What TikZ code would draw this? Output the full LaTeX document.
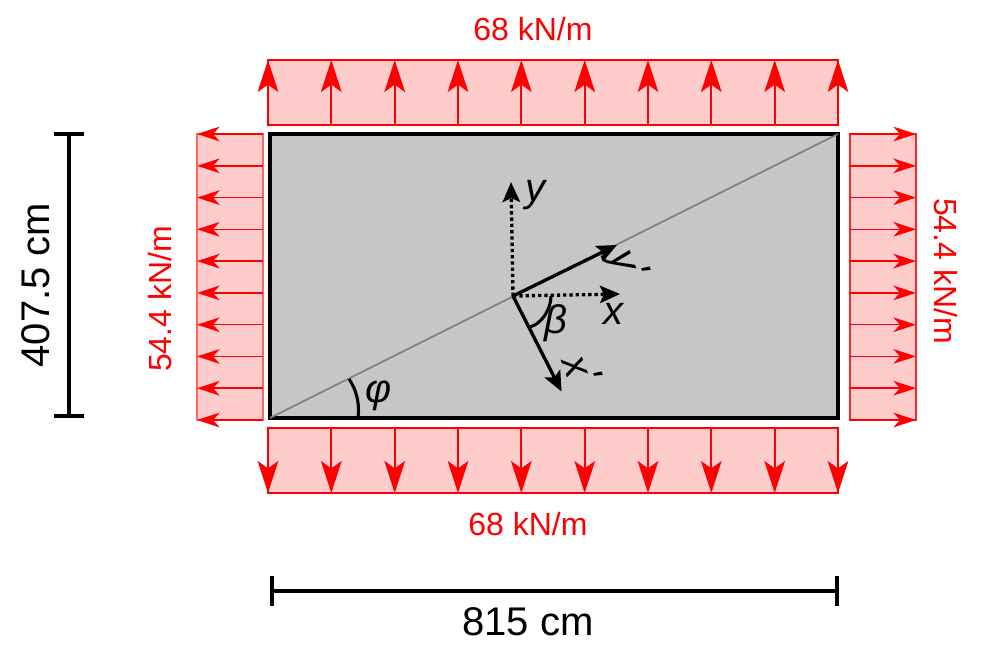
\documentclass[tikz,border=0pt]{standalone}
\usepackage{fontspec}
\setmainfont{Liberation Sans}
\newfontfamily\symfont{Liberation Sans}
\usetikzlibrary{arrows.meta}
\definecolor{loadred}{RGB}{255,0,0}
\definecolor{loadfill}{RGB}{255,204,204}
\definecolor{plategray}{RGB}{198,198,198}
\definecolor{diagonal}{RGB}{128,128,128}
\tikzset{
  x=0.75pt,y=-0.75pt,
  loadbox/.style={draw=loadred,line width=1.4pt},
  loadsideL/.style={draw=loadred!60,fill=loadfill,line width=1.1pt},
  loadsideR/.style={draw=loadred!85,fill=loadfill,line width=1.1pt},
  loadarrow/.style={draw=loadred,line width=1.3pt,-{Stealth[length=24pt,width=15.5pt,inset=5.5pt]}},
  loadarrowh/.style={draw=loadred,line width=1.1pt,-{Stealth[length=17pt,width=11pt,inset=5pt]}},
  plate/.style={draw=black,fill=plategray,line width=2.35pt},
  axis/.style={draw=black,line width=2.5pt,-{Stealth[length=15pt,width=13pt,inset=3pt]}},
  axisdot/.style={axis,dash pattern=on 2.5pt off 2.2pt},
  anglearc/.style={draw=black,line width=2.3pt},
  dim/.style={draw=black,line width=3pt},
  tick/.style={draw=black,line width=2.3pt},
  loadlabel/.style={text=loadred,font=\fontsize{24pt}{26pt}\selectfont,inner sep=0pt},
  dimlabel/.style={text=black,font=\fontsize{30pt}{32pt}\selectfont,inner sep=0pt},
  symlabel/.style={text=black,font=\fontsize{30pt}{32pt}\selectfont\itshape,inner sep=0pt},
  primelabel/.style={symlabel,font=\fontsize{30pt}{32pt}\symfont\itshape,rotate=-70},
}
\begin{document}
\begin{tikzpicture}
\useasboundingbox (0,0) rectangle (992,669);
% plate
\draw[plate] (270,134) rectangle (838,418);
\coordinate (SW) at (270,418);
\coordinate (NE) at (838,134);
\draw[draw=diagonal,line width=1.2pt] (SW) -- (NE);
% top and bottom loads
\fill[loadfill] (268,60) rectangle (838,125);
\fill[loadfill] (268,428) rectangle (838,493);
\draw[loadbox] (268,60) rectangle (838,125);
\draw[loadbox] (268,428) rectangle (838,493);
\foreach \i/\x in {0/268,1/331.3,2/394.7,3/458,4/521.3,5/584.7,6/648,7/711.3,8/774.7,9/838}{
  \coordinate (tb\i) at (\x,125);
  \coordinate (tt\i) at (\x,60);
  \coordinate (bt\i) at (\x,428);
  \coordinate (bb\i) at (\x,493);
  \draw[loadarrow] (tb\i) -- (tt\i);
  \draw[loadarrow] (bt\i) -- (bb\i);
}
% left and right loads
\draw[loadsideL] (197,134) rectangle (263,420);
\draw[loadsideR] (850,134) rectangle (916,420);
\foreach \i/\y in {0/134,1/165.8,2/197.6,3/229.3,4/261.1,5/292.9,6/324.7,7/356.4,8/388.2,9/420}{
  \coordinate (lr\i) at (263,\y);
  \coordinate (ll\i) at (197,\y);
  \coordinate (rl\i) at (850,\y);
  \coordinate (rr\i) at (916,\y);
  \draw[loadarrowh] (lr\i) -- (ll\i);
  \draw[loadarrowh] (rl\i) -- (rr\i);
}
% angles
\draw[anglearc] (349,379) .. controls (356,389) and (360,403) .. (358,418);
\coordinate (O) at (513,296);
\draw[anglearc] (551,296) .. controls (551,310) and (541,324) .. (530,327);
% axes
\coordinate (Yend) at (511,182);
\coordinate (Xend) at (620,294);
\coordinate (Ypend) at (617,245);
\coordinate (Xpend) at (561.5,391.5);
\draw[axisdot] (O) -- (Yend);
\draw[axisdot] (O) -- (Xend);
\draw[axis] (O) -- (Ypend);
\draw[axis] (O) -- (Xpend);
% symbols
\node[symlabel] (ly) at (535,195) {y};
\node[symlabel] (lx) at (613,314) {x};
\node[symlabel] (lb) at (556,323) {β};
\node[symlabel] (lp) at (379,396) {φ};
\node[primelabel] (lyp) at (626,264) {y\kern-.02em\raisebox{.17em}{'}};
\node[primelabel] (lxp) at (582,368) {x\kern-.02em\raisebox{.17em}{'}};
% load labels
\node[loadlabel] (t1) at (533,29) {68 kN/m};
\node[loadlabel] (t2) at (528,524) {68 kN/m};
\node[loadlabel,rotate=90] (t3) at (160,299) {54.4 kN/m};
\node[loadlabel,rotate=-90] (t4) at (946,271) {54.4 kN/m};
% dimensions
\coordinate (hl) at (272,591);
\coordinate (hr) at (837,591);
\draw[dim] (hl) -- (hr);
\draw[tick] (272,576) -- (272,606);
\draw[tick] (837,576) -- (837,606);
\node[dimlabel] (d1) at (528,622) {815 cm};
\coordinate (vt) at (69,134);
\coordinate (vb) at (69,416);
\draw[dim] (vt) -- (vb);
\draw[tick] (54,134) -- (84,134);
\draw[tick] (54,416) -- (84,416);
\node[dimlabel,rotate=90] (d2) at (36,285) {407.5 cm};
\end{tikzpicture}
\end{document}
